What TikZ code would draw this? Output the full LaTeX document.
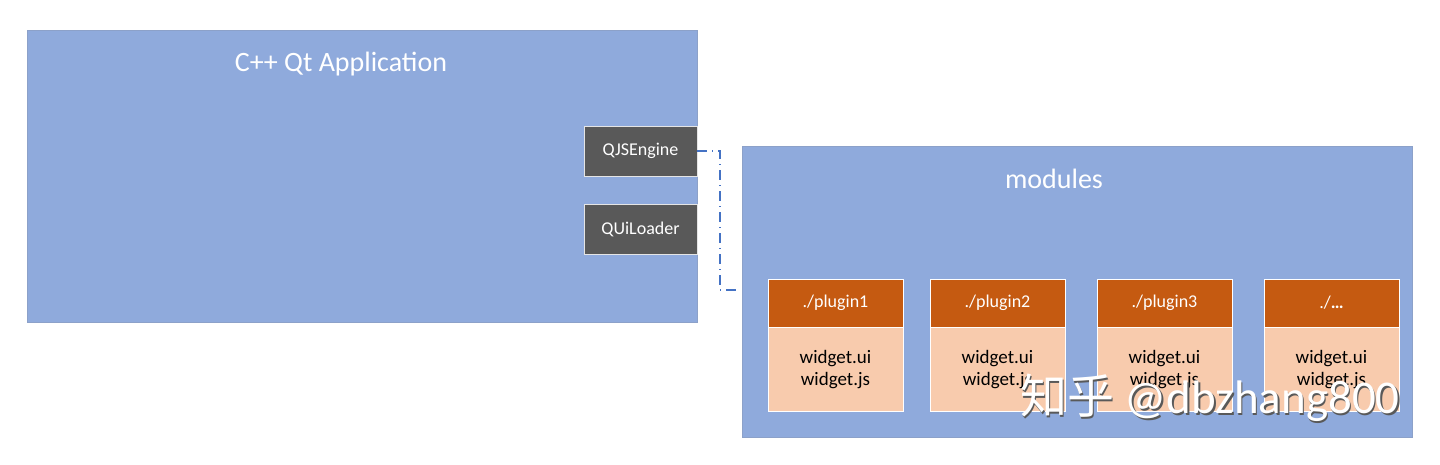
\documentclass[tikz,border=0pt]{standalone}
\usepackage{fontspec}
\setmainfont{Carlito}
\newfontfamily\cjk{Noto Sans CJK SC}
\definecolor{appblue}{HTML}{8FAADC}
\definecolor{engray}{HTML}{595959}
\definecolor{plugorange}{HTML}{C55A11}
\definecolor{plugpeach}{HTML}{F8CBAD}
\definecolor{linkblue}{HTML}{4472C4}
\tikzset{
  bigbox/.style={draw=appblue!80!gray, fill=appblue, line width=0.8pt},
  engine/.style={draw=white!80!gray, fill=engray, text=white, minimum width=113pt,
                 minimum height=50pt, font=\fontsize{18}{21}\selectfont},
  plughead/.style={draw=white, fill=plugorange, text=white, minimum width=135pt,
                   minimum height=48pt, font=\fontsize{18}{21}\selectfont},
  plugbody/.style={draw=white, fill=plugpeach, minimum width=135pt, minimum height=84pt,
                   align=center, font=\fontsize{19}{22}\selectfont},
  link/.style={linkblue, line width=1.2pt, dash pattern=on 10pt off 5pt on 1pt off 5pt}
}
\begin{document}
\begin{tikzpicture}[x=1pt,y=-1pt]
  \useasboundingbox (0,0) rectangle (1440,465);

% application
  \draw[bigbox] (27,30) rectangle (697,322);
  \node[text=white, font=\fontsize{28}{32}\selectfont] (apptitle) at (341,64) {C++ Qt Application};
  \node[engine] (qjs) at (640.5,151) {QJSEngine};
  \node[engine] (qui) at (640.5,229) {QUiLoader};

% modules
  \draw[bigbox] (742,146) rectangle (1412,437);
  \node[text=white, font=\fontsize{28}{32}\selectfont] (modtitle) at (1054,179) {modules};

  \foreach \x/\name/\lbl in {835.5/p1/{./plugin1}, 997.5/p2/{./plugin2}, 1164.5/p3/{./plugin3}, 1331.5/p4/{./\textbf{…}}}{
    \node[plughead] (\name head) at (\x,303) {\lbl};
    \node[plugbody, anchor=north] (\name body) at (\name head.south) {widget.ui\\widget.js};
  }

% link
  \coordinate (bend1) at (720,151);
  \coordinate (bend2) at (720,290);
  \coordinate (linkend) at (740,290);
  \draw[link] (qjs.east) -- (bend1) -- (bend2) -- (linkend);

% watermark
  \node[text=gray!70!black, font=\fontsize{47}{50}\selectfont] (markshadow) at (1211.5,399.5) {{\cjk 知乎} @dbzhang800};
  \node[text=white, font=\fontsize{47}{50}\selectfont] (mark) at (1210,398) {{\cjk 知乎} @dbzhang800};
\end{tikzpicture}
\end{document}
